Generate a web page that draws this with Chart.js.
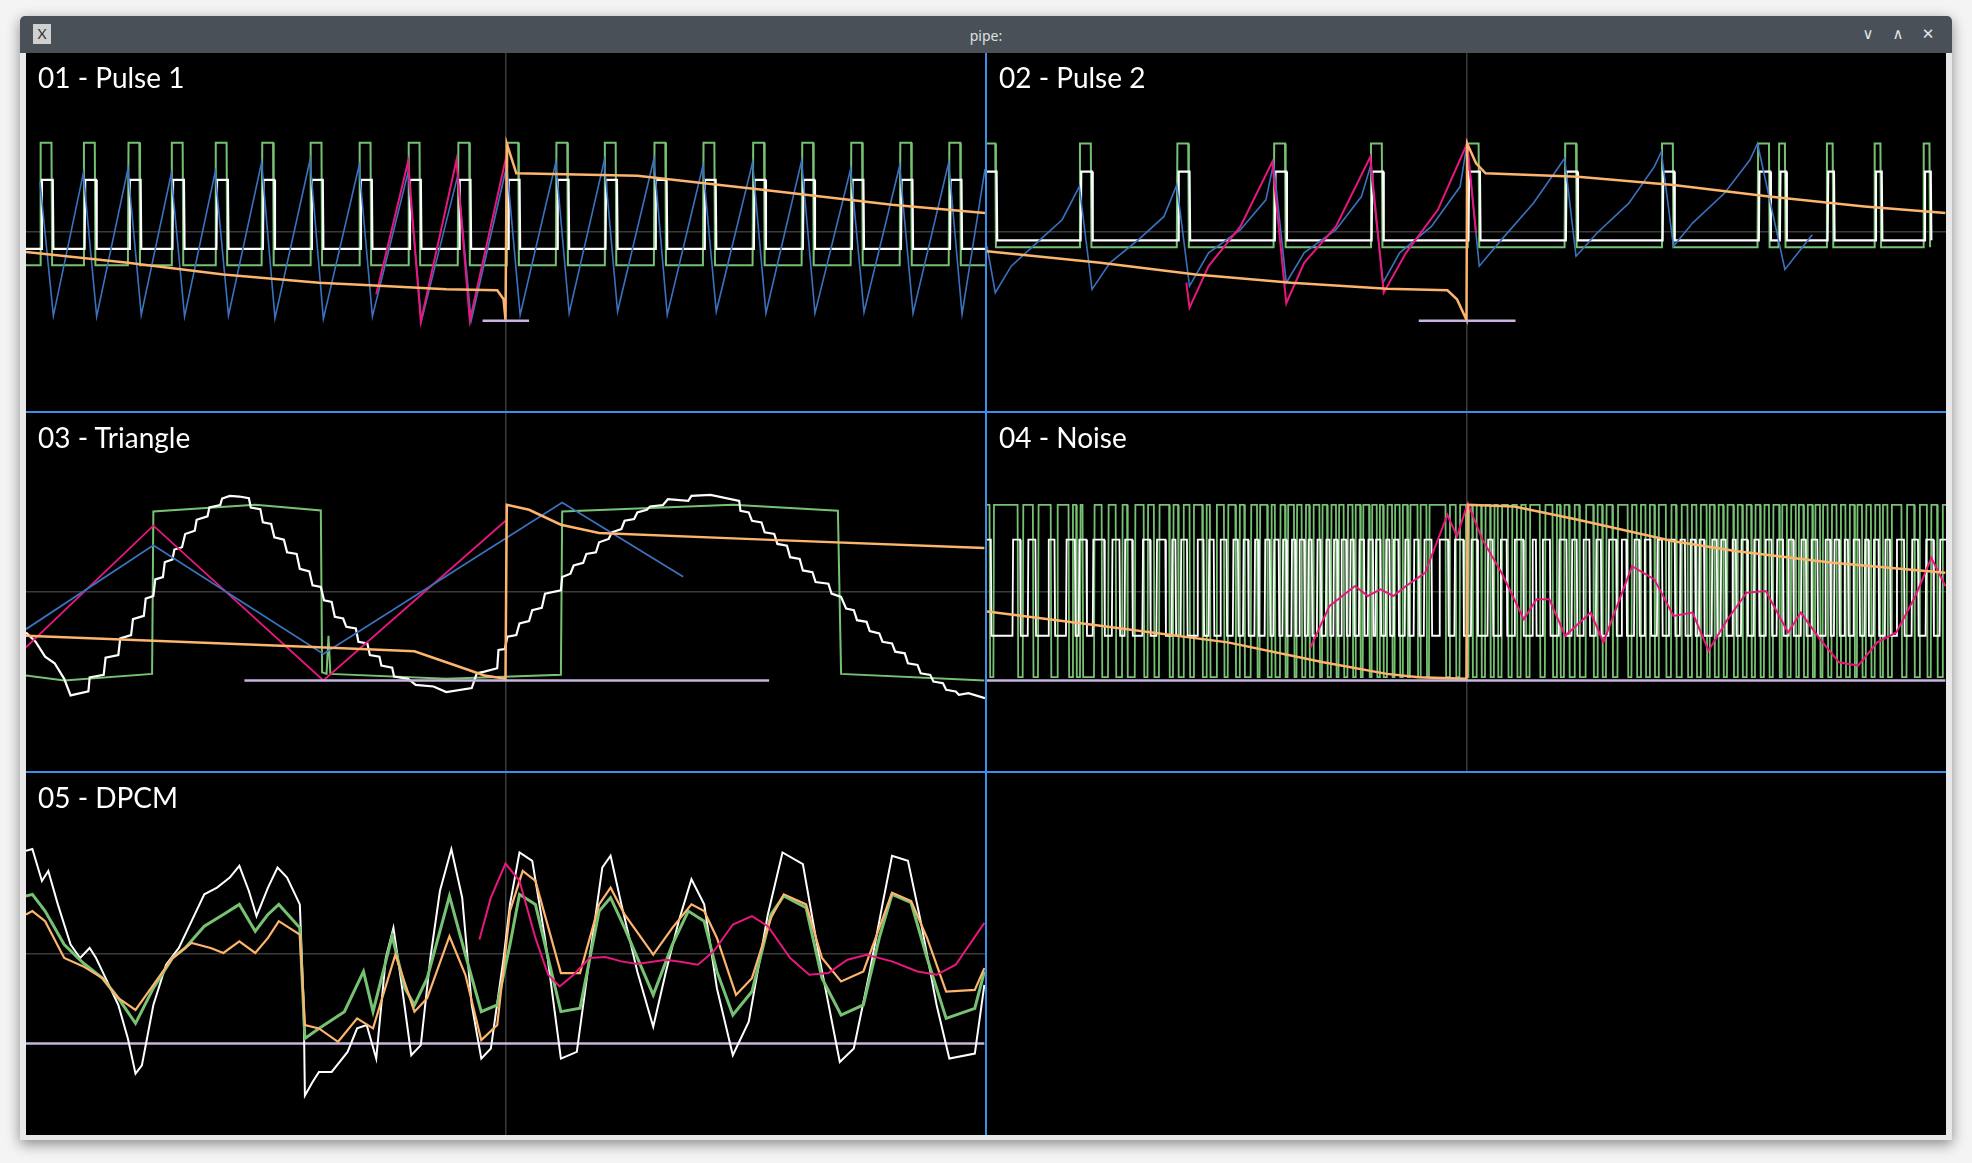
<!DOCTYPE html>
<html>
<head>
<meta charset="utf-8">
<script src="https://cdn.jsdelivr.net/npm/chart.js@4.4.0/dist/chart.umd.min.js"></script>
<style>
  body { margin: 0; width: 1972px; height: 1163px; background: #f4f4f4; overflow: hidden; font-family: Lato, sans-serif; }
  #win { position: absolute; left: 20px; top: 16px; width: 1932px; height: 1124px; background: #e8e8e8;
         border-radius: 5px 5px 0 0; box-shadow: 0 4px 14px rgba(0,0,0,0.45); }
  #bar { position: absolute; left: 0; top: 0; right: 0; height: 37px; background: #4a5057; border-radius: 5px 5px 0 0; }
  #bar .t { position: absolute; left: 0; right: 0; top: 10px; text-align: center; color: #dde0e3; font-size: 14px; font-family: "Noto Sans", sans-serif; }
  #bar .ic { position: absolute; left: 13px; top: 8px; width: 18px; height: 20px; background: #d0d0d0; color: #333; font-size: 14px; text-align: center; line-height: 20px; }
  #bar .b { position: absolute; top: 9px; width: 16px; text-align: center; color: #e4e6e8; font-size: 15px; line-height: 18px; font-family: "DejaVu Sans", sans-serif; }
  #grid { position: absolute; left: 6px; top: 37px; width: 1920px; height: 1082px; background: #3d8fe6;
          display: grid; grid-template-columns: 959px 959px; grid-template-rows: 358px 358px 362px; gap: 2px; }
  .cell { position: relative; background: #000; }
  .cell canvas { position: absolute; left: 0; top: 0; }
  .lbl { position: absolute; left: 12px; top: 7px; color: #fff; font-size: 28px; z-index: 2; }
</style>
</head>
<body>
<div id="win">
  <div id="bar">
    <div class="ic">X</div>
    <div class="t">pipe:</div>
    <div class="b" style="left:1840px">&#8744;</div>
    <div class="b" style="left:1870px">&#8743;</div>
    <div class="b" style="left:1900px">&#10005;</div>
  </div>
  <div id="grid">
    <div class="cell"><div class="lbl">01 - Pulse 1</div><canvas id="c1"></canvas></div>
    <div class="cell"><div class="lbl">02 - Pulse 2</div><canvas id="c2"></canvas></div>
    <div class="cell"><div class="lbl">03 - Triangle</div><canvas id="c3"></canvas></div>
    <div class="cell"><div class="lbl">04 - Noise</div><canvas id="c4"></canvas></div>
    <div class="cell"><div class="lbl">05 - DPCM</div><canvas id="c5"></canvas></div>
    <div class="cell"></div>
  </div>
</div>
<script>
// Colours of the traces
const GREEN = '#76c172', WHITE = '#ffffff', BLUE = '#3a72bf', PINK = '#e8177d', ORANGE = '#fdb46c', LAVENDER = '#c9b5df';

// ---- 01 - Pulse 1 (x = sample, y = level) ----
const p1Rises = [22,90,160,228,297,370,446,523,600,678,755,832,908,986,1063,1141,1218,1295,1372,1449,1506];
const p1Width = 18;
const p1BluePeak = [150,177,190,175,180,210,217,200,180,170,200,210,215,220,200,210,215,190,200,210,190];
const p1BlueLow = [-253,-255,-250,-255,-252,-260,-262,-255,-268,-268,-250,-245,-240,-250,-240,-245,-245,-242,-245,-248,-240];
const p1Pink = [[550,-188],[600,212],[620,-271],[676,217],[697,-268],[755,235]];
const p1Orange = [[0,-60],[160,-93],[310,-128],[460,-153],[540,-161],[660,-173],[740,-176],[750,-203],[753,-265],[755,267],[770,177],[960,170],[1160,127],[1360,82],[1506,57]];
const p1Lav = [[717,-268],[790,-268]];

// ---- 02 - Pulse 2 ----
const p2Rises = [-20,145,298,450,602,754,907,1059,1210,1243,1318,1393,1470];
const p2Widths = [33,18,18,18,18,18,18,18,18,10,10,10,10];
const p2Blue = [[0,-43],[13,-183],[38,-103],[78,-33],[118,37],[145,137],[165,-173],[193,-93],[238,-23],[278,47],[298,142],[318,-163],[348,-63],[398,7],[438,97],[450,207],[470,-153],[498,-63],[548,7],[588,107],[602,197],[622,-153],[648,-63],[698,17],[743,137],[754,267],[773,-103],[808,-23],[858,87],[898,197],[907,222],[925,-73],[958,-3],[1008,87],[1048,197],[1059,242],[1078,-43],[1108,27],[1158,117],[1198,217],[1210,267],[1253,-113],[1296,-8]];
const p2Pink = [[313,-153],[318,-228],[348,-103],[398,17],[448,212],[470,-215],[498,-93],[548,17],[602,227],[623,-183],[658,-63],[708,67],[754,267],[768,-3]];
const p2Orange = [[0,-58],[178,-93],[328,-128],[478,-153],[628,-171],[723,-176],[738,-203],[753,-265],[754,267],[768,207],[783,177],[928,167],[1078,142],[1228,107],[1378,77],[1505,57]];
const p2Lav = [[678,-268],[830,-268]];

// ---- 03 - Triangle ----
const p3Green = [[0,-252],[60,-267],[198,-247],[200,243],[360,263],[463,246],[465,-242],[472,-247],[475,-132],[478,-247],[660,-262],[840,-250],[842,243],[1110,263],[1275,245],[1280,-247],[1505,-267]];
const p3White = [[0,-122],[15,-150],[30,-195],[45,-215],[60,-262],[70,-312],[98,-300],[100,-258],[122,-250],[125,-198],[145,-190],[148,-140],[165,-130],[168,-82],[185,-72],[188,-20],[200,-12],[203,38],[215,45],[218,90],[230,98],[233,128],[245,135],[250,175],[265,185],[268,218],[285,228],[288,255],[305,262],[308,282],[320,290],[335,288],[350,283],[353,255],[368,250],[372,210],[385,205],[390,165],[405,158],[410,120],[425,115],[430,70],[445,62],[450,20],[463,15],[468,-25],[480,-30],[485,-75],[498,-80],[503,-105],[518,-110],[522,-150],[536,-155],[540,-190],[555,-195],[558,-222],[575,-228],[578,-255],[600,-262],[612,-280],[640,-285],[660,-302],[700,-290],[708,-245],[720,-240],[740,-230],[742,-175],[752,-172],[756,-135],[770,-130],[775,-95],[790,-88],[795,-55],[810,-48],[815,-5],[840,5],[842,45],[855,55],[860,80],[875,88],[880,115],[895,120],[900,150],[915,160],[920,180],[935,190],[940,215],[955,220],[960,240],[975,248],[980,258],[1000,262],[1008,280],[1040,275],[1045,290],[1075,293],[1120,275],[1122,245],[1135,240],[1140,215],[1155,210],[1160,180],[1175,175],[1180,145],[1195,140],[1200,105],[1215,100],[1220,65],[1235,60],[1240,30],[1260,25],[1265,-5],[1280,-15],[1288,-50],[1300,-55],[1305,-85],[1320,-90],[1325,-118],[1340,-125],[1345,-150],[1360,-155],[1365,-180],[1380,-185],[1385,-215],[1400,-220],[1405,-245],[1420,-250],[1425,-270],[1440,-275],[1445,-295],[1460,-300],[1465,-310],[1480,-305],[1506,-320]];
const p3Pink = [[0,-167],[200,200],[467,-267],[755,218]];
const p3Blue = [[0,-112],[200,141],[467,-187],[842,270],[1032,46]];
const p3Orange = [[0,-132],[460,-167],[610,-179],[660,-212],[720,-252],[753,-262],[755,263],[790,248],[840,203],[900,178],[1160,158],[1505,133]];
const p3Lav = [[343,-267],[1167,-267]];

// ---- 04 - Noise ----
const p4GreenEdges = [4,10,48,56,72,80,100,110,128,134,140,146,150,168,180,190,202,212,220,232,246,252,262,270,286,292,300,308,318,324,338,344,350,360,372,378,390,396,404,414,424,428,440,446,452,460,468,472,482,486,494,500,506,512,522,526,534,540,548,552,560,566,574,578,586,590,600,604,612,616,622,628,636,640,648,652,660,664,676,680,690,694,720,726,736,742,752,756,762,768,776,782,790,796,802,808,818,824,832,838,846,852,868,876,888,894,900,906,914,922,930,940,952,958,966,972,982,990,1006,1012,1020,1026,1034,1040,1048,1054,1066,1074,1082,1090,1100,1106,1114,1120,1130,1134,1142,1148,1156,1162,1172,1178,1186,1192,1200,1206,1214,1220,1228,1234,1244,1248,1256,1262,1270,1274,1282,1288,1296,1300,1308,1312,1320,1326,1334,1340,1348,1354,1362,1366,1374,1380,1388,1394,1402,1406,1414,1420,1436,1444,1456,1464,1476,1482,1492,1500];
const p4WhiteEdges = [6,40,52,64,76,96,106,124,138,144,156,166,184,196,208,216,228,244,256,266,280,290,296,304,314,330,340,348,356,366,376,386,394,402,410,420,426,436,444,450,458,464,470,478,484,490,498,504,510,518,524,532,538,544,550,556,564,570,576,584,592,598,606,610,618,626,632,638,646,656,662,670,678,686,698,710,724,734,748,760,770,786,794,806,816,828,842,856,862,872,884,898,910,918,926,936,946,956,964,976,988,996,1004,1016,1024,1032,1042,1052,1060,1070,1080,1088,1096,1104,1112,1118,1126,1138,1146,1152,1160,1170,1176,1184,1194,1204,1212,1222,1232,1240,1250,1258,1266,1278,1286,1294,1304,1316,1324,1330,1338,1346,1352,1360,1370,1378,1384,1392,1400,1410,1418,1428,1440,1452,1462,1474,1486,1496];
const p4Pink = [[508,-167],[538,-42],[578,18],[598,-12],[618,8],[638,-12],[658,18],[688,58],[723,233],[738,168],[755,268],[778,158],[808,58],[843,-82],[863,-22],[883,-22],[908,-132],[948,-62],[968,-152],[1013,78],[1048,38],[1078,-72],[1108,-62],[1133,-177],[1163,-82],[1193,-2],[1223,3],[1258,-122],[1278,-62],[1308,-142],[1338,-212],[1368,-222],[1398,-152],[1428,-122],[1458,-12],[1483,103],[1505,18]];
const p4Orange = [[0,-59],[178,-102],[378,-152],[528,-212],[628,-247],[678,-257],[753,-262],[755,263],[828,258],[928,218],[1078,153],[1178,123],[1328,88],[1505,58]];
const p4Lav = [[0,-267],[1505,-267]];

// ---- 05 - DPCM ----
const p5White = [[0,308],[10,313],[25,218],[35,248],[50,148],[70,28],[85,-12],[100,18],[110,-12],[120,-52],[145,-152],[160,-252],[172,-357],[182,-332],[200,-152],[220,-32],[240,18],[260,98],[280,178],[300,198],[320,228],[335,263],[350,188],[362,113],[380,198],[395,258],[410,228],[430,148],[436,-152],[438,-422],[450,-382],[460,-352],[480,-352],[505,-292],[520,-222],[535,-212],[550,-312],[565,-12],[577,78],[590,-92],[605,-302],[620,-272],[635,-12],[650,188],[668,313],[685,168],[700,-152],[715,-312],[730,-282],[750,-12],[760,148],[775,303],[795,278],[815,48],[840,-312],[865,-292],[885,-12],[905,258],[918,293],[935,148],[960,-52],[985,-217],[1005,-52],[1025,98],[1045,223],[1065,148],[1085,-102],[1110,-302],[1135,-202],[1165,118],[1188,303],[1220,268],[1245,-2],[1278,-322],[1300,-282],[1325,-52],[1345,148],[1360,293],[1385,278],[1405,98],[1430,-152],[1450,-312],[1490,-297],[1505,-92]];
const p5Green = [[0,173],[10,178],[30,128],[60,28],[90,-27],[120,-72],[145,-132],[172,-207],[200,-102],[230,-12],[250,18],[280,83],[310,118],[335,148],[360,68],[380,118],[397,148],[430,78],[438,-252],[460,-222],[500,-172],[530,-52],[545,-172],[575,53],[595,-102],[610,-152],[630,-72],[665,173],[690,-2],[715,-172],[740,-152],[760,28],[775,178],[800,148],[840,-172],[870,-162],[900,128],[918,168],[940,78],[985,-122],[1015,28],[1040,128],[1065,98],[1085,-52],[1110,-182],[1140,-112],[1170,118],[1190,173],[1225,138],[1250,-72],[1280,-182],[1315,-152],[1340,48],[1360,178],[1390,153],[1415,-12],[1445,-192],[1490,-162],[1505,-52]];
const p5Orange = [[0,118],[10,128],[30,98],[60,-12],[90,-37],[120,-72],[145,-132],[172,-167],[200,-92],[230,-12],[260,33],[290,18],[310,3],[335,38],[360,3],[380,48],[397,98],[430,58],[438,-212],[460,-222],[490,-262],[520,-192],[545,-222],[580,-2],[610,-172],[630,-132],[665,53],[690,-62],[715,-257],[740,-212],[760,128],[780,248],[800,218],[840,-57],[870,-57],[900,148],[918,198],[940,118],[985,-2],[1015,78],[1045,148],[1065,128],[1085,48],[1115,-122],[1140,-72],[1170,108],[1190,178],[1225,148],[1250,-12],[1280,-82],[1315,-52],[1340,78],[1360,183],[1390,158],[1415,48],[1445,-112],[1490,-107],[1505,-42]];
const p5Pink = [[712,43],[730,168],[753,270],[775,218],[800,48],[820,-62],[838,-97],[860,-62],[885,-12],[910,-9],[935,-22],[960,-30],[1005,-17],[1030,-24],[1055,-32],[1080,8],[1110,88],[1140,113],[1165,83],[1200,-12],[1230,-62],[1260,-57],[1290,-17],[1320,-2],[1360,-22],[1400,-52],[1430,-62],[1460,-32],[1505,93]];
const p5Lav = [[0,-267],[1505,-267]];

function pts(arr) {
    return arr.map(p => ({ x: p[0], y: p[1] }));
}

// square pulses from rise positions and widths
function pulses(rises, widths, hi, lo, shift) {
    const out = [{ x: 0, y: lo }];
    rises.forEach((r, i) => {
        const w = Array.isArray(widths) ? widths[i] : widths;
        const a = r + shift, b = r + w + shift;
        out.push({ x: a, y: lo }, { x: a + 1, y: hi }, { x: b, y: hi }, { x: b + 1, y: lo });
    });
    return out;
}

// blue ramps for pulse 1: peak at each rise, low just after fall
function ramps(rises, width, peaks, lows) {
    const out = [];
    rises.forEach((r, i) => {
        out.push({ x: r, y: peaks[i] }, { x: r + width + 3, y: lows[i] });
    });
    return out;
}

// noise: toggles between levels at each edge
function toggles(edges, hi, lo, end) {
    const out = [];
    let level = hi;
    out.push({ x: 0, y: level });
    edges.forEach(e => {
        out.push({ x: e, y: level });
        level = level === hi ? lo : hi;
        out.push({ x: e + 1, y: level });
    });
    out.push({ x: end, y: level });
    return out;
}

function line(data, color, width) {
    return { data: data, borderColor: color, borderWidth: width, showLine: true, pointRadius: 0, tension: 0, fill: false };
}

function makeChart(id, datasets) {
    // first dataset in the list is drawn at the back
    datasets.forEach((d, i) => { d.order = datasets.length - i; });
    new Chart(document.getElementById(id), {
        type: 'scatter',
        data: { datasets: datasets },
        options: {
            responsive: true,
            maintainAspectRatio: false,
            animation: false,
            layout: { padding: 0 },
            plugins: { legend: { display: false }, tooltip: { enabled: false } },
            scales: {
                x: {
                    min: 0, max: 1506,
                    ticks: { display: false, stepSize: 753 },
                    border: { display: false },
                    grid: { color: c => c.tick.value === 753 ? '#3a3a3a' : 'transparent', lineWidth: 1.5, drawTicks: false }
                },
                y: {
                    min: -540, max: 540,
                    ticks: { display: false, stepSize: 540 },
                    border: { display: false },
                    grid: { color: c => c.tick.value === 0 ? '#3a3a3a' : 'transparent', lineWidth: 1.5, drawTicks: false }
                }
            }
        }
    });
}

makeChart('c1', [
    line(pulses(p1Rises, p1Width, 269, -100, 0), GREEN, 2),
    line(pulses(p1Rises, p1Width, 157, -51, 2), WHITE, 2.2),
    line(ramps(p1Rises, p1Width, p1BluePeak, p1BlueLow), BLUE, 1.6),
    line(pts(p1Pink), PINK, 2),
    line(pts(p1Orange), ORANGE, 2.5),
    line(pts(p1Lav), LAVENDER, 2.5)
]);
makeChart('c2', [
    line(pulses(p2Rises, p2Widths, 267, -46, 0), GREEN, 2),
    line(pulses(p2Rises, p2Widths, 182, -25, 2), WHITE, 2.2),
    line(pts(p2Blue), BLUE, 1.6),
    line(pts(p2Pink), PINK, 2),
    line(pts(p2Orange), ORANGE, 2.5),
    line(pts(p2Lav), LAVENDER, 2.5)
]);
makeChart('c3', [
    line(pts(p3Green), GREEN, 2),
    line(pts(p3White), WHITE, 2.2),
    line(pts(p3Pink), PINK, 1.8),
    line(pts(p3Blue), BLUE, 1.8),
    line(pts(p3Orange), ORANGE, 2.5),
    line(pts(p3Lav), LAVENDER, 2.5)
]);
makeChart('c4', [
    line(toggles(p4GreenEdges, 263, -257, 1506), GREEN, 1.8),
    line(toggles(p4WhiteEdges, 158, -132, 1506), WHITE, 1.8),
    line(pts(p4Pink), PINK, 2),
    line(pts(p4Orange), ORANGE, 2.5),
    line(pts(p4Lav), LAVENDER, 2.5)
]);
makeChart('c5', [
    line(pts(p5Lav), LAVENDER, 2.5),
    line(pts(p5White), WHITE, 2),
    line(pts(p5Green), GREEN, 3),
    line(pts(p5Orange), ORANGE, 2.2),
    line(pts(p5Pink), PINK, 2)
]);
</script>
</body>
</html>
